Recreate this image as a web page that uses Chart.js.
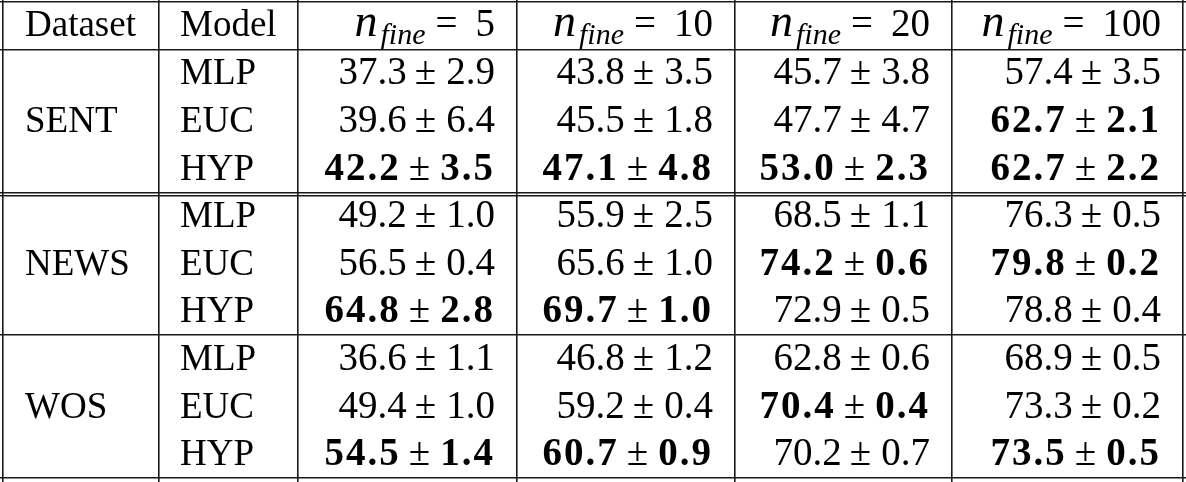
<!DOCTYPE html>
<html>
<head>
<meta charset="utf-8">
<style>
  html, body { margin: 0; padding: 0; background: #fff; }
  #wrap { width: 1186px; height: 482px; position: relative; }
</style>
<script src="https://cdn.jsdelivr.net/npm/chart.js@4.4.1/dist/chart.umd.min.js"></script>
</head>
<body>
<div id="wrap"><canvas id="tableChart"></canvas></div>
<script>
// Table contents
const DATASETS = ['SENT', 'NEWS', 'WOS'];
const MODELS = ['MLP', 'EUC', 'HYP'];
const N_FINE = [5, 10, 20, 100];

// rows: MLP, EUC, HYP ; columns: n_fine = 5, 10, 20, 100
const SENT_MEAN = [[37.3, 43.8, 45.7, 57.4], [39.6, 45.5, 47.7, 62.7], [42.2, 47.1, 53.0, 62.7]];
const SENT_STD  = [[2.9, 3.5, 3.8, 3.5], [6.4, 1.8, 4.7, 2.1], [3.5, 4.8, 2.3, 2.2]];
const NEWS_MEAN = [[49.2, 55.9, 68.5, 76.3], [56.5, 65.6, 74.2, 79.8], [64.8, 69.7, 72.9, 78.8]];
const NEWS_STD  = [[1.0, 2.5, 1.1, 0.5], [0.4, 1.0, 0.6, 0.2], [2.8, 1.0, 0.5, 0.4]];
const WOS_MEAN  = [[36.6, 46.8, 62.8, 68.9], [49.4, 59.2, 70.4, 73.3], [54.5, 60.7, 70.2, 73.5]];
const WOS_STD   = [[1.1, 1.2, 0.6, 0.5], [1.0, 0.4, 0.4, 0.2], [1.4, 0.9, 0.7, 0.5]];

const MEANS = [SENT_MEAN, NEWS_MEAN, WOS_MEAN];
const STDS = [SENT_STD, NEWS_STD, WOS_STD];

// layout: column borders (x units) and horizontal rules (row units)
const COL_EDGES = [3, 159, 298, 517, 735, 952, 1183];
const ROW_RULES = [0, 1, 4, 4.065, 7, 10];

const TEXT_FONT = '37px "Liberation Serif"';
const NUM_FONT = '39px "Liberation Serif"';
const NUM_BOLD = 'bold 39px "Liberation Serif"';

const tableText = {
  id: 'tableText',
  afterDraw(chart) {
    const { ctx, scales: { x, y } } = chart;
    const base = r => y.getPixelForValue(r + 0.5) + 11;
    ctx.save();
    ctx.fillStyle = '#000';
    ctx.textBaseline = 'alphabetic';

    // header
    ctx.font = TEXT_FONT;
    ctx.textAlign = 'left';
    ctx.fillText('Dataset', x.getPixelForValue(COL_EDGES[0]) + 22, base(0) - 1);
    ctx.fillText('Model', x.getPixelForValue(COL_EDGES[1]) + 21, base(0) - 1);

    N_FINE.forEach((n, c) => {
      let px = x.getPixelForValue(COL_EDGES[c + 3]) - 22;
      const by = base(0) - 1;
      ctx.textAlign = 'right';
      ctx.font = NUM_FONT;
      ctx.fillText(String(n), px, by);
      px -= ctx.measureText(String(n)).width + 18;
      ctx.fillText('=', px, by);
      px -= ctx.measureText('=').width + 10;
      ctx.font = 'italic 30px "Liberation Serif"';
      ctx.fillText('fine', px, by + 8);
      px -= ctx.measureText('fine').width + 3;
      ctx.font = 'italic 46px "Liberation Serif"';
      ctx.fillText('n', px, by);
    });

    DATASETS.forEach((name, g) => {
      const first = 1 + g * 3;
      ctx.font = TEXT_FONT;
      ctx.textAlign = 'left';
      ctx.fillText(name, x.getPixelForValue(COL_EDGES[0]) + 22, base(first + 1));

      MODELS.forEach((m, r) => {
        const row = first + r;
        ctx.font = TEXT_FONT;
        ctx.textAlign = 'left';
        ctx.fillText(m, x.getPixelForValue(COL_EDGES[1]) + 21, base(row));

        N_FINE.forEach((n, c) => {
          const colMeans = MEANS[g].map(v => v[c]);
          const bold = MEANS[g][r][c] === Math.max(...colMeans);
          const mean = MEANS[g][r][c].toFixed(1);
          const std = STDS[g][r][c].toFixed(1);
          let px = x.getPixelForValue(COL_EDGES[c + 3]) - 22;
          const by = base(row);
          ctx.textAlign = 'right';
          ctx.font = bold ? NUM_BOLD : NUM_FONT;
          ctx.letterSpacing = bold ? '2px' : '0px';
          ctx.fillText(std, px, by);
          px -= ctx.measureText(std).width + 10;
          ctx.letterSpacing = '0px';
          ctx.font = NUM_FONT;
          ctx.fillText('\u00b1', px, by);
          px -= ctx.measureText('\u00b1').width + 8;
          ctx.font = bold ? NUM_BOLD : NUM_FONT;
          ctx.letterSpacing = bold ? '2px' : '0px';
          ctx.fillText(mean, px, by);
          ctx.letterSpacing = '0px';
        });
      });
    });
    ctx.restore();
  }
};

const gridStyle = { color: '#1a1a1a', lineWidth: 1.6, drawTicks: false };

new Chart(document.getElementById('tableChart'), {
  type: 'scatter',
  data: { datasets: [{ data: [], pointRadius: 0 }] },
  options: {
    responsive: true,
    maintainAspectRatio: false,
    animation: false,
    layout: { padding: 0 },
    plugins: { legend: { display: false }, tooltip: { enabled: false } },
    scales: {
      x: {
        type: 'linear', min: 0, max: 1186,
        afterBuildTicks: s => { s.ticks = COL_EDGES.map(v => ({ value: v })); },
        grid: gridStyle,
        border: { display: false },
        ticks: { display: false }
      },
      y: {
        type: 'linear', reverse: true, min: -0.042, max: 10.084,
        afterBuildTicks: s => { s.ticks = ROW_RULES.map(v => ({ value: v })); },
        grid: gridStyle,
        border: { display: false },
        ticks: { display: false }
      }
    }
  },
  plugins: [tableText]
});
</script>
</body>
</html>
